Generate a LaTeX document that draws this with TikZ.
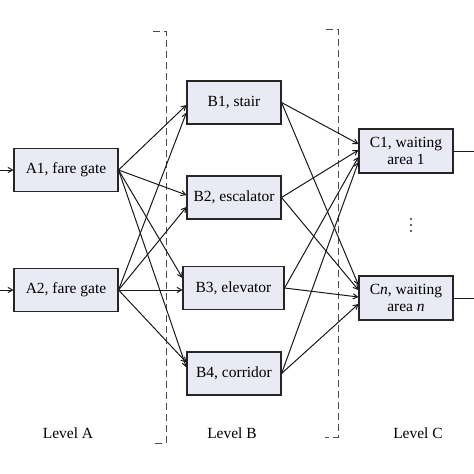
\documentclass[tikz,border=0pt]{standalone}
\usepackage{fontspec}
\setmainfont{Liberation Serif}
\usepackage{pgf,tikz}
\usepackage{color}
\usetikzlibrary{arrows}
\definecolor{boxfill}{RGB}{234,234,244}

\begin{document}
\begin{tikzpicture}[x=1pt,y=-1pt,font=\fontsize{15.5}{17}\selectfont,
	box/.style={draw=black!85,fill=boxfill,line width=1.1pt,minimum width=94pt,minimum height=43pt,inner sep=2pt,align=center},
	link/.style={->,>=angle 60,line width=1pt,black!90},
	level/.style={draw=black!70,dash pattern=on 7pt off 4pt,line width=1pt}]
	\useasboundingbox (0,0) rectangle (474,474);
	
	\node[box,minimum width=104pt] (a1) at (66,170) {A1, fare gate};
	\node[box,minimum width=104pt] (a2) at (66,290) {A2, fare gate};
	\node[box] (b1) at (234,102.5) {B1, stair};
	\node[box] (b2) at (234,197.5) {B2, escalator};
	\node[box,minimum width=101pt] (b3) at (233.5,288) {B3, elevator};
	\node[box] (b4) at (234,373.5) {B4, corridor};
	\node[box,minimum height=44pt] (c1) at (406,151) {C1, waiting\\area 1};
	\node[box,minimum height=44pt] (cn) at (406,298) {C\textit{n}, waiting\\area \textit{n}};
	
	\node (la) at (68,433) {Level A};
	\node (lb) at (232,433) {Level B};
	\node (lc) at (418,433) {Level C};
	
	\coordinate (in1) at (0,170);
	\coordinate (in2) at (0,290);
	\coordinate (out1) at (474,151);
	\coordinate (outn) at (474,298);
	
	% vertical dots
	\fill[black!80] (411,219) circle (1.2pt) (411,225) circle (1.2pt) (411,231) circle (1.2pt);
	
	% level borders
	\draw[level] (153,31) -- (166,31) -- (166,443) -- (153,443);
	\draw[level] (326,29) -- (338,29) -- (338,437) -- (325,437);
	
	\draw[link] (in1) -- (a1);
	\draw[link] (in2) -- (a2);
	
	\draw[link] (a1.east) -- ([yshift=-2.5pt]b1.west);
	\draw[link] (a1.east) -- ([yshift=2.5pt]b2.west);
	\draw[link] (a1.east) -- ([yshift=10pt]b3.west);
	\draw[link] (a1.east) -- ([yshift=6pt]b4.west);
	\draw[link] (a2.east) -- ([yshift=-10pt]b1.west);
	\draw[link] (a2.east) -- ([yshift=-9.5pt]b2.west);
	\draw[link] (a2.east) -- ([yshift=-2pt]b3.west);
	\draw[link] (a2.east) -- ([yshift=11pt]b4.west);
	
	\draw[link] (b1.east) -- ([yshift=7pt]c1.west);
	\draw[link] (b2.east) -- ([yshift=1pt]c1.west);
	\draw[link] (b3.east) -- ([yshift=-6pt]c1.west);
	\draw[link] (b4.east) -- ([yshift=-11pt]c1.west);
	\draw[link] (b1.east) -- ([yshift=13pt]cn.west);
	\draw[link] (b2.east) -- ([yshift=8pt]cn.west);
	\draw[link] (b3.east) -- ([yshift=1pt]cn.west);
	\draw[link] (b4.east) -- ([yshift=-6pt]cn.west);
	
	\draw[line width=1pt,black!90] (c1) -- (out1);
	\draw[line width=1pt,black!90] (cn) -- (outn);
	
	\end{tikzpicture}
\end{document}
